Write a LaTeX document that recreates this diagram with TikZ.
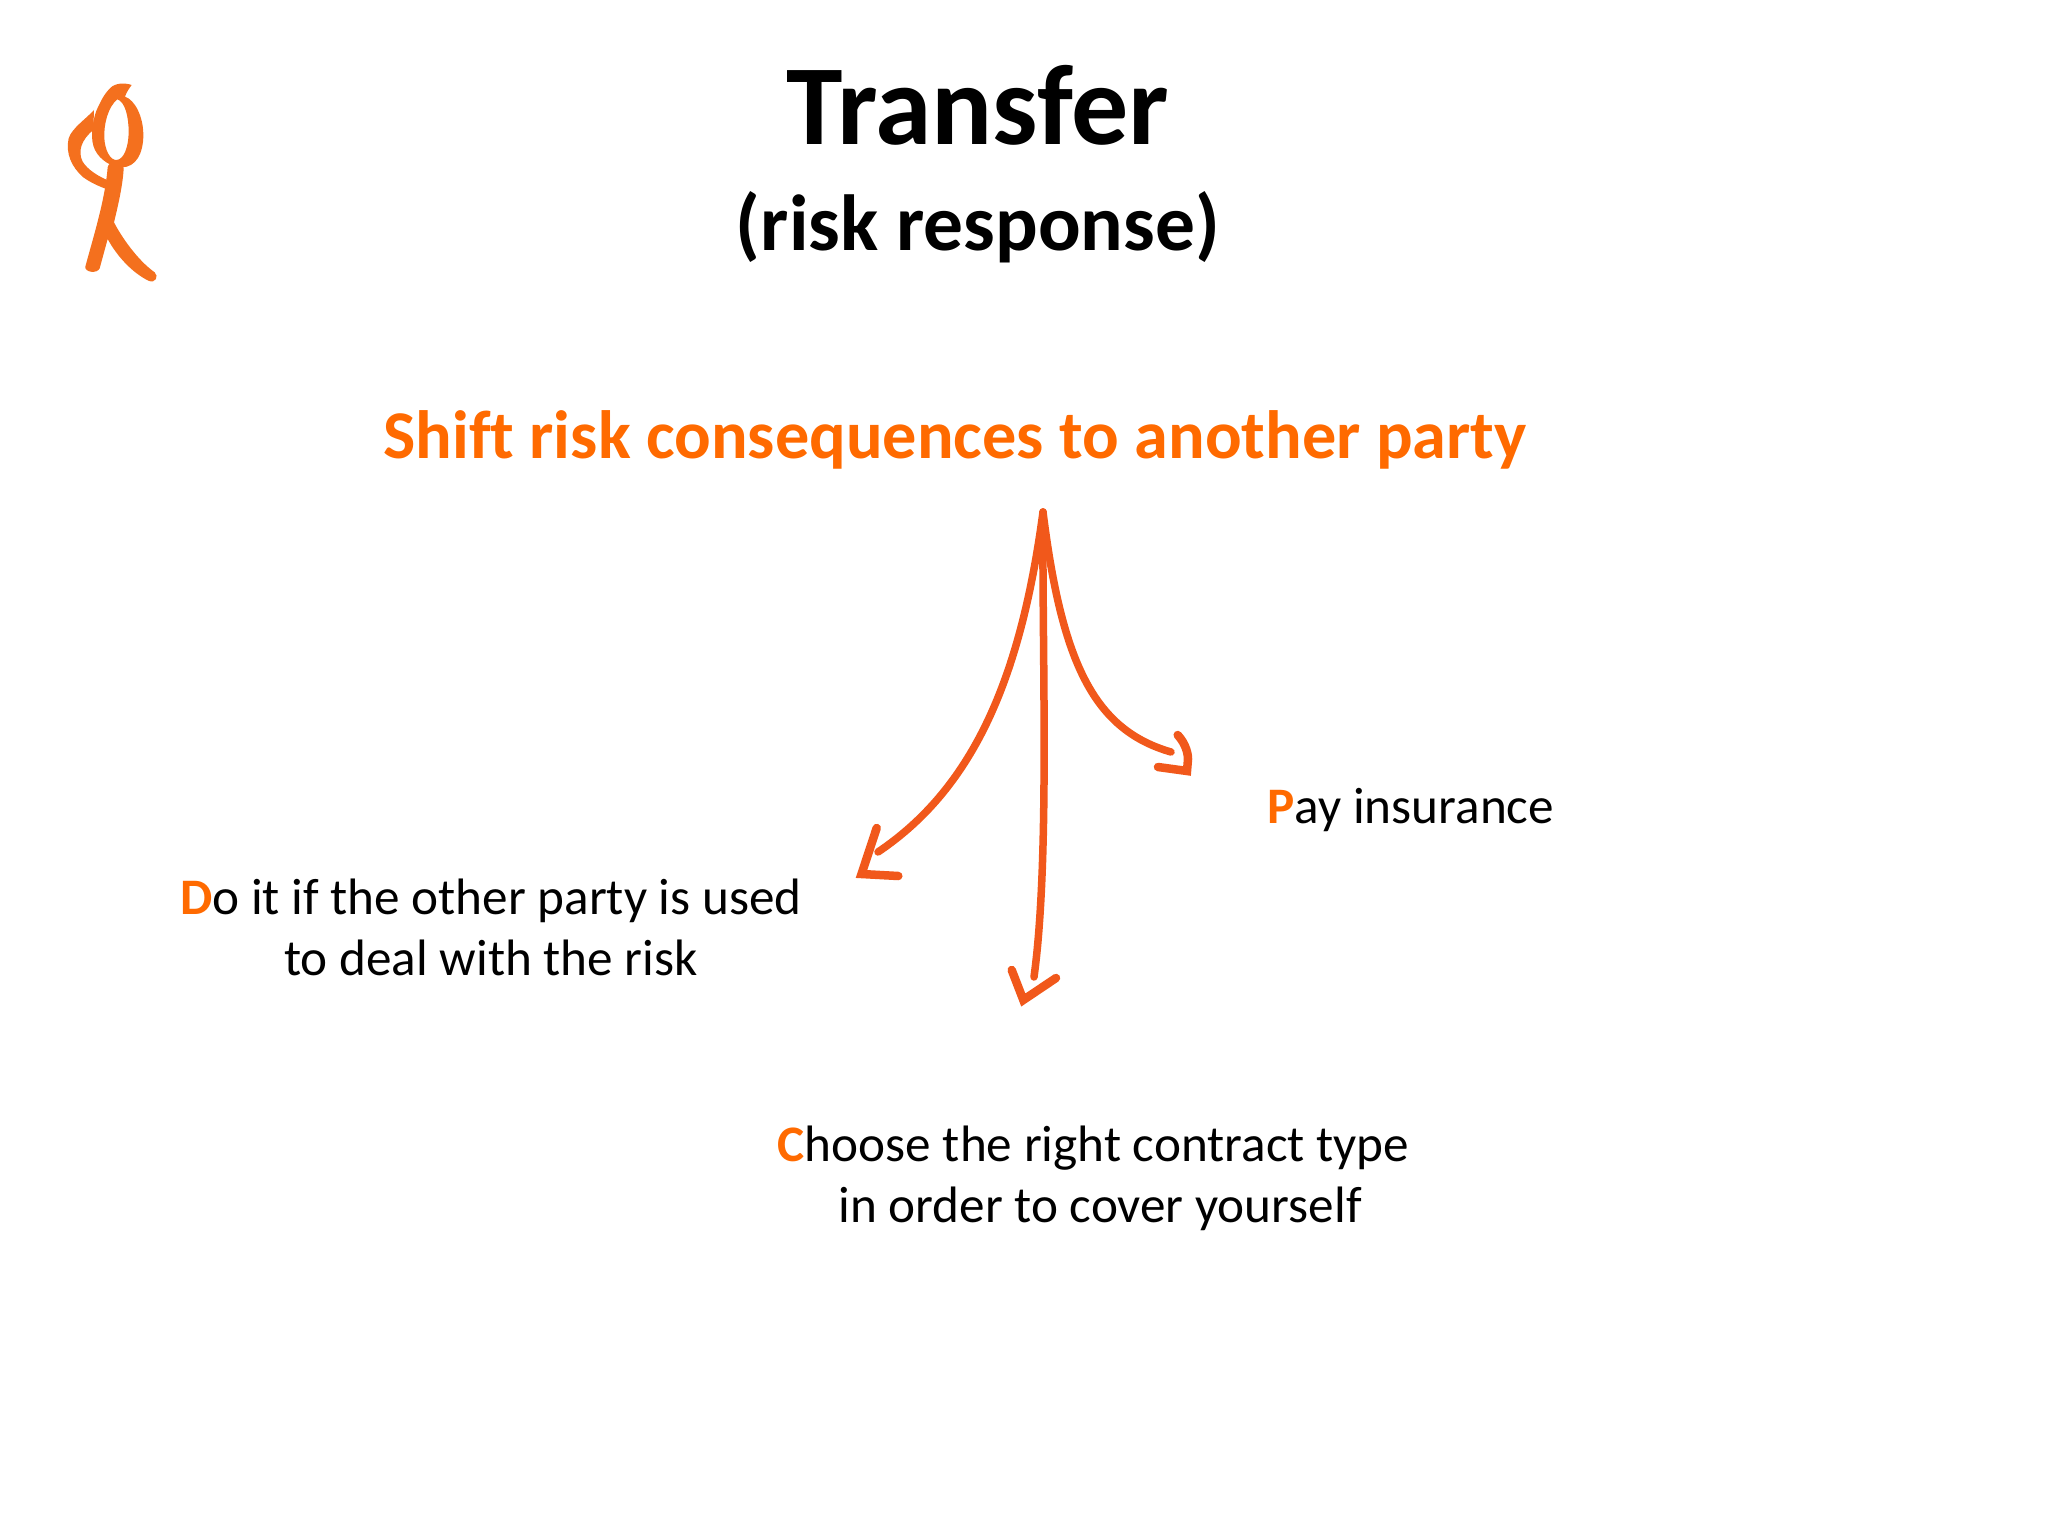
\documentclass[tikz,border=0pt]{standalone}
\usepackage{fontspec}
\setmainfont[Ligatures=NoCommon]{Carlito}
\definecolor{txtorange}{HTML}{FF6A00}
\definecolor{arroworange}{HTML}{F1581B}
\definecolor{figorange}{HTML}{F4701E}
\newcommand{\fs}[1]{\fontsize{#1}{#1}\selectfont}
\newcommand{\ini}[1]{\textcolor{txtorange}{\textbf{#1}}}
\tikzset{
  txt/.style={anchor=base,inner sep=0pt,outer sep=0pt,align=center,text=black},
  body/.style={txt,font=\fs{51.2}},
  stroke/.style={draw=arroworange,line width=7.5pt,line cap=round,line join=round},
  headstroke/.style={draw=arroworange,line width=8.5pt,line cap=round,line join=miter}
}
\begin{document}
\begin{tikzpicture}[x=1pt,y=-1pt]
\useasboundingbox[fill=white] (0,0) rectangle (2048,1536);
% figure
\begin{scope}[xshift=30pt,yshift=-60pt,x=0.33333pt,y=-0.33333pt,fill=figorange]
\fill[even odd rule] (305,75) .. controls (285,68) and (255,68) .. (240,85)
  .. controls (220,105) and (212,125) .. (200,150)
  .. controls (185,190) and (180,240) .. (195,270)
  .. controls (210,300) and (245,322) .. (275,322)
  .. controls (318,322) and (340,280) .. (340,225)
  .. controls (340,170) and (315,120) .. (285,110)
  .. controls (290,95) and (298,85) .. (305,75) -- cycle
  (262,118) .. controls (235,140) and (221,190) .. (223,235)
  .. controls (225,270) and (240,301) .. (260,300)
  .. controls (282,298) and (296,260) .. (296,215)
  .. controls (296,170) and (285,125) .. (262,118) -- cycle;
\fill (192,150) .. controls (170,175) and (125,205) .. (116,235)
  .. controls (106,280) and (125,322) .. (160,352)
  .. controls (185,370) and (210,380) .. (232,388)
  -- (237,362) .. controls (205,350) and (172,328) .. (158,305)
  .. controls (143,275) and (153,240) .. (190,210) -- cycle;
\fill (233,322) .. controls (235,301) and (281,301) .. (281,325)
  .. controls (279,370) and (266,430) .. (252,487)
  .. controls (274,530) and (322,600) .. (374,637)
  .. controls (387,648) and (377,672) .. (355,662)
  .. controls (305,637) and (260,587) .. (233,537)
  -- (209,625) .. controls (202,642) and (163,637) .. (166,620)
  .. controls (193,520) and (225,420) .. (233,322) -- cycle;
\end{scope}
% texts
\node[txt,font=\fs{114}\bfseries] (title) at (978,145) {Transfer};
\node[txt,font=\fs{79.5}\bfseries] (sub) at (978,250) {(risk response)};
\node[txt,font=\fs{68.3}\bfseries,text=txtorange] (shift) at (955,458) {Shift risk consequences to another party};
\node[body,anchor=base west] (pay) at (1267.5,823.5) {\ini{P}ay insurance};
\node[body] (do1) at (491,914.5) {\ini{D}o it if the other party is used};
\node[body] (do2) at (491,975.5) {to deal with the risk};
\node[body] (ch1) at (1093.5,1161.5) {\ini{C}hoose the right contract type};
\node[body] (ch2) at (1100,1222.5) {in order to cover yourself};
% arrows
\coordinate (src) at (1043,512);
\coordinate (endL) at (878,852);
\coordinate (endC) at (1034,977);
\coordinate (endR) at (1171,752);
\draw[stroke] (src) .. controls (1020,685) and (970,790) .. (endL);
\draw[stroke] (src) .. controls (1042,655) and (1050,860) .. (endC);
\draw[stroke] (src) .. controls (1062,665) and (1095,730) .. (endR);
\draw[headstroke] (876.7,828) -- (861.5,874) -- (898.3,876);
\draw[headstroke] (1011.7,970) -- (1023.3,1000) -- (1056,978);
\draw[headstroke] (1177.7,735) .. controls (1186,744) and (1188,754) .. (1188,759) -- (1187,771) -- (1158,767);
\end{tikzpicture}
\end{document}
